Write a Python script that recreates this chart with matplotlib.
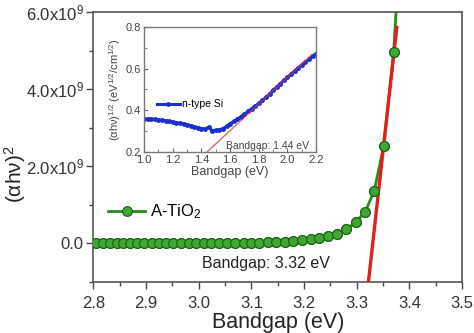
import matplotlib
matplotlib.use("Agg")
import matplotlib.pyplot as plt
from matplotlib.ticker import MultipleLocator, FuncFormatter

plt.rcParams["font.family"] = ["Liberation Sans", "DejaVu Sans"]
plt.rcParams["mathtext.fontset"] = "custom"
plt.rcParams["mathtext.rm"] = "Liberation Sans"
plt.rcParams["mathtext.it"] = "Liberation Sans:italic"
plt.rcParams["mathtext.bf"] = "Liberation Sans:bold"

# main curve: A-TiO2, (alpha h nu)^2 vs photon energy
tio2_e = [2.805, 2.818, 2.831, 2.844, 2.857, 2.870, 2.883, 2.897, 2.911, 2.924,
          2.938, 2.952, 2.966, 2.981, 2.995, 3.010, 3.024, 3.039, 3.054, 3.069,
          3.085, 3.100, 3.115, 3.131, 3.147, 3.163, 3.179, 3.196, 3.213, 3.229,
          3.246, 3.263, 3.280, 3.298, 3.316, 3.333, 3.351, 3.370, 3.388]
tio2_y = [0.010, 0.010, 0.010, 0.010, 0.010, 0.010, 0.010, 0.010, 0.010, 0.010,
          0.011, 0.011, 0.011, 0.011, 0.012, 0.012, 0.012, 0.013, 0.014, 0.015,
          0.016, 0.018, 0.022, 0.028, 0.035, 0.044, 0.060, 0.078, 0.110, 0.148,
          0.190, 0.250, 0.370, 0.550, 0.820, 1.360, 2.520, 4.970, 9.100]
tio2_y = [v * 1e9 for v in tio2_y]

# linear fit for TiO2 band edge
fit_e = [3.318, 3.376]
fit_y = [-1.5e9, 5.6e9]

# inset: n-type Si, (alpha h nu)^1/2
si_e = [1.000, 1.025, 1.050, 1.075, 1.100, 1.125, 1.150, 1.175, 1.200, 1.225,
        1.250, 1.275, 1.300, 1.325, 1.350, 1.375, 1.400, 1.425, 1.450, 1.475,
        1.500, 1.525, 1.550, 1.575, 1.600, 1.625, 1.650, 1.675, 1.700, 1.725,
        1.750, 1.775, 1.800, 1.825, 1.850, 1.875, 1.900, 1.925, 1.950, 1.975,
        2.000, 2.025, 2.050, 2.075, 2.100, 2.125, 2.150, 2.175, 2.200]
si_y = [0.358, 0.358, 0.357, 0.356, 0.354, 0.352, 0.349, 0.346, 0.343, 0.340,
        0.337, 0.334, 0.330, 0.326, 0.321, 0.316, 0.312, 0.310, 0.318, 0.302,
        0.303, 0.306, 0.312, 0.322, 0.336, 0.346, 0.357, 0.369, 0.381, 0.394,
        0.407, 0.420, 0.433, 0.447, 0.462, 0.478, 0.495, 0.512, 0.528, 0.543,
        0.558, 0.573, 0.589, 0.604, 0.618, 0.632, 0.646, 0.659, 0.672]

si_fit_e = [1.44, 2.17]
si_fit_y = [0.200, 0.667]

green = "#2a8c1e"
fig = plt.figure(figsize=(4.74, 3.33), dpi=100)
ax = fig.add_axes([0.197, 0.153, 0.778, 0.811])

ax.plot(tio2_e, tio2_y, color=green, lw=2, marker="o", ms=7,
        mfc="#3fa832", mec="#17600f", mew=0.8, label="A-TiO$_2$", zorder=2)
ax.plot(fit_e, fit_y, color="#e0201a", lw=2.4, zorder=3)
ax.plot(tio2_e, tio2_y, ls="none", marker="o", ms=7,
        mfc="#3fa832", mec="#17600f", mew=0.8, zorder=4)

ax.set_xlim(2.8, 3.5)
ax.set_ylim(-1e9, 6e9)
ax.xaxis.set_major_locator(MultipleLocator(0.1))
ax.xaxis.set_minor_locator(MultipleLocator(0.05))
ax.yaxis.set_major_locator(MultipleLocator(2e9))
ax.yaxis.set_minor_locator(MultipleLocator(1e9))


def fmt(v, pos):
    if abs(v) < 1:
        return "0.0"
    return "%.1fx10$^{9}$" % (v / 1e9)


ax.yaxis.set_major_formatter(FuncFormatter(fmt))
ax.tick_params(which="both", direction="out", top=False, right=False,
               labelsize=12, labelcolor="#333333", color="#444444")
ax.tick_params(axis="y", labelsize=12, pad=2)
ax.tick_params(axis="x", pad=5)
ax.tick_params(which="major", length=5, width=1)
ax.tick_params(which="minor", length=3, width=1)
for s in ax.spines.values():
    s.set_color("#555555")
    s.set_linewidth(1.2)

ax.set_xlabel("Bandgap (eV)", fontsize=15.5, color="#222222", labelpad=1)
ax.set_ylabel("(αhν)$^2$", fontsize=15, color="#222222")
ax.yaxis.set_label_coords(-0.176, 0.40)
ax.text(3.127, -0.52e9, "Bandgap: 3.32 eV", fontsize=11.5, color="#222222",
        ha="center", va="center")
ax.legend(loc="center left", bbox_to_anchor=(0.0, 0.26), frameon=False,
          fontsize=12, handlelength=2.2, handletextpad=0.3)

# inset
ins = fig.add_axes([0.304, 0.544, 0.363, 0.375])
ins.plot(si_e, si_y, color="#1a2fd0", lw=2.2, marker="o", ms=2.5,
         mec="#1a2fd0", label="n-type Si")
ins.plot(si_fit_e, si_fit_y, color="#e03030", lw=0.9, alpha=0.8)
ins.set_xlim(1.0, 2.2)
ins.set_ylim(0.2, 0.8)
ins.xaxis.set_major_locator(MultipleLocator(0.2))
ins.xaxis.set_minor_locator(MultipleLocator(0.1))
ins.yaxis.set_major_locator(MultipleLocator(0.2))
ins.yaxis.set_minor_locator(MultipleLocator(0.1))
ins.tick_params(which="both", direction="in", labelsize=8,
                labelcolor="#444444", color="#666666", pad=2)
ins.tick_params(which="major", length=3)
ins.tick_params(which="minor", length=2)
for s in ins.spines.values():
    s.set_color("#777777")
    s.set_linewidth(1.0)
ins.set_xlabel("Bandgap (eV)", fontsize=9, color="#444444", labelpad=1)
ins.set_ylabel("(αhν)$^{1/2}$ (eV$^{1/2}$/cm$^{1/2}$)", fontsize=8,
               color="#444444", labelpad=2)
ins.text(2.15, 0.23, "Bandgap: 1.44 eV", fontsize=7.5, color="#444444",
         ha="right", va="center")
ins.legend(loc="center left", bbox_to_anchor=(0.02, 0.38), frameon=False,
           fontsize=7.5, handlelength=2.2, handletextpad=0.2)

fig.savefig("out.png", dpi=100)
